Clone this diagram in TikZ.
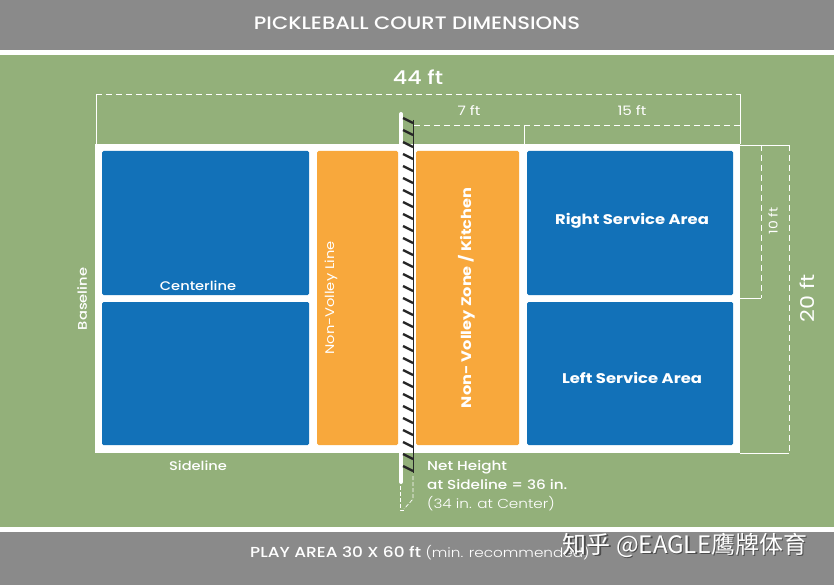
\documentclass[tikz,border=0pt]{standalone}
\usepackage{fontspec}
\setmainfont{Poppins}[FakeStretch=1.17, UprightFont=* Medium, BoldFont=* Bold]
\newfontfamily\regfont{Poppins}[FakeStretch=1.17]
\newfontfamily\lightfont{Poppins Light}[FakeStretch=1.17]
\newfontfamily\cjk{Noto Sans CJK SC}
\definecolor{bandgray}{HTML}{8A8A8A}
\definecolor{grass}{HTML}{93B07A}
\definecolor{courtblue}{HTML}{1271B8}
\definecolor{kitchen}{HTML}{F8A83C}
\newcommand{\fsz}[1]{\fontsize{#1}{#1}\selectfont}
\tikzset{
  zone/.style={rounded corners=1.5pt},
  dimdash/.style={white, line width=0.9pt, dash pattern=on 6pt off 4pt},
  dimsolid/.style={white, line width=0.9pt},
  lbl/.style={text=white, inner sep=0pt},
}
\begin{document}
\begin{tikzpicture}[x=1pt,y=-1pt]
\useasboundingbox (0,0) rectangle (834,585);
% bands
\fill[bandgray] (0,0) rectangle (834,50);
\fill[white] (0,50) rectangle (834,55);
\fill[grass] (0,55) rectangle (834,527);
\fill[white] (0,527) rectangle (834,532);
\fill[bandgray] (0,532) rectangle (834,585);
\node[lbl, font=\fsz{18}] (title) at (417,23) {PICKLEBALL COURT DIMENSIONS};
% court
\fill[white] (95,144) rectangle (740,453);
\fill[courtblue, zone] (102,151) rectangle (309,295);
\fill[courtblue, zone] (102,302) rectangle (309,445);
\fill[kitchen, zone] (317,151) rectangle (398,445);
\fill[kitchen, zone] (416,151) rectangle (519,445);
\fill[courtblue, zone] (527,151) rectangle (733,295);
\fill[courtblue, zone] (527,302) rectangle (733,445);
% net
\draw[white, line width=4pt, line cap=round] (401,114) -- (401,482);
\foreach \y in {118,130,...,466} {
  \draw[black!85, line width=2.4pt] (403,\y) -- (413,\y+5);
}
\draw[black!85, line width=1.6pt] (413.5,120) -- (413.5,473);
% net height bracket
\coordinate (nb1) at (413,476);
\coordinate (nb2) at (413,499);
\coordinate (nb3) at (404,509);
\coordinate (nb4) at (400,486);
\coordinate (nb5) at (400,510);
\draw[dimsolid, line width=0.7pt, dash pattern=on 4pt off 2pt] (nb1) -- (nb2) -- (nb3);
\draw[dimsolid, line width=0.7pt, dash pattern=on 4pt off 2pt] (nb4) -- (nb5) -- ++(4,0);
% 44 ft dimension
\coordinate (a1) at (96,144);
\coordinate (a2) at (96,94);
\coordinate (a3) at (740,94);
\coordinate (a4) at (740,144);
\draw[dimsolid] (a1) -- (a2);
\draw[dimsolid] (a4) -- (a3);
\draw[dimdash] (a2) -- (a3);
\node[lbl, font=\fsz{19}] (l44) at (418,77) {44 ft};
% 7 ft / 15 ft
\coordinate (b1) at (414,125);
\coordinate (b2) at (740,125);
\coordinate (b3) at (524,125);
\coordinate (b4) at (524,144);
\draw[dimdash] (b1) -- (b2);
\draw[dimsolid] (b3) -- (b4);
\node[lbl, font=\regfont\fsz{13}] (l7) at (469,111) {7 ft};
\node[lbl, font=\regfont\fsz{13}] (l15) at (632,111) {15 ft};
% right dimensions
\coordinate (c1) at (740,145);
\coordinate (c2) at (789,145);
\coordinate (c3) at (761,145);
\coordinate (c4) at (761,298);
\coordinate (c5) at (740,298);
\coordinate (c6) at (789,453);
\coordinate (c7) at (740,453);
\draw[dimsolid] (c1) -- (c2);
\draw[dimdash] (c3) -- (c4);
\draw[dimsolid] (c5) -- (c4);
\draw[dimdash] (c2) -- (c6);
\draw[dimsolid] (c7) -- (c6);
\node[lbl, font=\regfont\fsz{12}, rotate=90] (l10) at (773,221) {10 ft};
\node[lbl, font=\regfont\fsz{19}, rotate=90] (l20) at (807,298) {20 ft};
% court labels
\node[lbl, font=\fsz{12.5}, rotate=90] (base) at (82,299) {Baseline};
\node[lbl, font=\fsz{12.5}] (center) at (198,286) {Centerline};
\node[lbl, font=\fsz{12.5}] (side) at (198,466) {Sideline};
\node[lbl, font=\regfont\fsz{12.5}, rotate=90] (nvl) at (331,298) {Non-Volley Line};
\node[lbl, font=\fsz{13.8}\bfseries, rotate=90] (nvz) at (467,298) {Non- Volley Zone / Kitchen};
\node[lbl, font=\fsz{14}\bfseries] (rsa) at (632,221) {Right Service Area};
\node[lbl, font=\fsz{14}\bfseries] (lsa) at (632,378) {Left Service Area};
% net height text
\node[lbl, font=\fsz{13}, anchor=west] (nh1) at (427,467) {Net Height};
\node[lbl, font=\fsz{13}, anchor=west] (nh2) at (427,485) {at Sideline = 36 in.};
\node[lbl, font=\lightfont\fsz{13}, anchor=west] (nh3) at (427,504) {(34 in. at Center)};
% bottom
\node[lbl, font=\fsz{14.5}, anchor=west] (play) at (250,553) {PLAY AREA 30 X 60 ft \lightfont\fsz{13}(min. recommended)};
\node[text=black!70, font=\cjk\fsz{24}, inner sep=0pt] (wm2) at (686.5,546.5) {知乎 @EAGLE鹰牌体育};
\node[lbl, font=\cjk\fsz{24}] (wm) at (685,545) {知乎 @EAGLE鹰牌体育};
\end{tikzpicture}
\end{document}
